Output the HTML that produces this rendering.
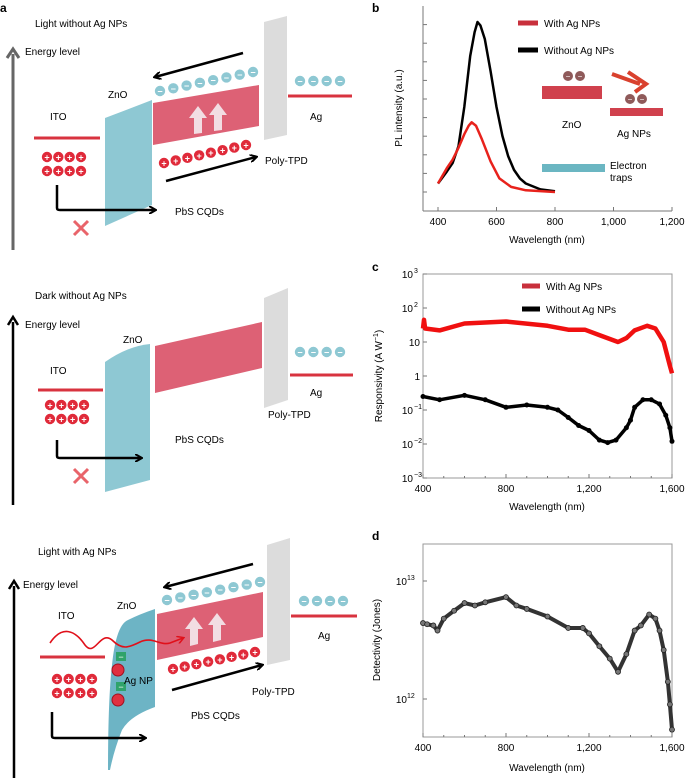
<!DOCTYPE html>
<html><head><meta charset="utf-8"><style>
html,body{margin:0;padding:0;background:#fff}
svg{display:block;font-family:"Liberation Sans",sans-serif}
</style></head><body>
<svg id="fig" width="685" height="778" viewBox="0 0 685 778" xmlns="http://www.w3.org/2000/svg">
<defs>
<marker id="ah" markerWidth="8" markerHeight="8" refX="6" refY="4" orient="auto" markerUnits="userSpaceOnUse"><path d="M0,0 L7,4 L0,8" fill="none" stroke="#000" stroke-width="2"/></marker>
<marker id="ahr" markerWidth="8" markerHeight="8" refX="6" refY="4" orient="auto" markerUnits="userSpaceOnUse"><path d="M0,0 L7,4 L0,8" fill="none" stroke="#e0101a" stroke-width="1.5"/></marker>
</defs>

<!-- PANEL a1 -->
<g>
<text x="0" y="12" font-size="12" font-weight="bold">a</text>
<text x="35" y="27" font-size="10">Light without Ag NPs</text>
<line x1="13" y1="250" x2="13" y2="54" stroke="#666" stroke-width="3"/>
<path d="M7,58 L13,49 L19,58" fill="none" stroke="#666" stroke-width="3"/>
<text x="25" y="55" font-size="10">Energy level</text>
<text x="50" y="120" font-size="10">ITO</text>
<line x1="34" y1="138" x2="100" y2="138" stroke="#d8333f" stroke-width="3"/>
<polygon points="105,118 152,100 152,205 105,226" fill="#8ec8d3"/>
<text x="108" y="98" font-size="10">ZnO</text>
<polygon points="153,103 259,85 259,126 153,145" fill="#dd6175"/>
<polygon points="264,22 287,16 287,135 264,140" fill="#dcdcdc"/>
<line x1="288" y1="96" x2="352" y2="96" stroke="#d8333f" stroke-width="3"/>
<text x="310" y="120" font-size="10">Ag</text>
<text x="265" y="164" font-size="10">Poly-TPD</text>
<text x="175" y="215" font-size="10">PbS CQDs</text>
<line x1="243" y1="53" x2="155" y2="77" stroke="#000" stroke-width="2.5" marker-end="url(#ah)"/>
<line x1="166" y1="181" x2="256" y2="157" stroke="#000" stroke-width="2.5" marker-end="url(#ah)"/>
<path d="M57,185 L57,208 Q57,210 60,210 L155,210" fill="none" stroke="#000" stroke-width="2.5" marker-end="url(#ah)"/>
<path d="M74,221 L88,235 M88,221 L74,235" stroke="#e9646a" stroke-width="3"/>
<g fill="#f2dde3">
<path d="M194,134 L194,118 L189,118 L198,106 L207,118 L202,118 L202,133Z"/>
<path d="M214,131 L214,115 L209,115 L218,103 L227,115 L222,115 L222,130Z"/>
</g>
</g>

<!-- PANEL a2 -->
<g>
<text x="35" y="299" font-size="10">Dark without Ag NPs</text>
<line x1="13" y1="505" x2="13" y2="322" stroke="#000" stroke-width="2.5"/>
<path d="M8,325 L13,317 L18,325" fill="none" stroke="#000" stroke-width="2.5"/>
<text x="25" y="328" font-size="10">Energy level</text>
<text x="50" y="374" font-size="10">ITO</text>
<line x1="38" y1="390" x2="103" y2="390" stroke="#d8333f" stroke-width="3"/>
<path d="M105,362 Q128,346 150,344 L150,480 L105,492Z" fill="#8ec8d3"/>
<text x="123" y="343" font-size="10">ZnO</text>
<polygon points="155,346 262,322 262,368 155,393" fill="#dd6175"/>
<polygon points="264,298 288,288 288,400 264,408" fill="#dcdcdc"/>
<line x1="290" y1="375" x2="353" y2="375" stroke="#d8333f" stroke-width="3"/>
<text x="310" y="396" font-size="10">Ag</text>
<text x="268" y="418" font-size="10">Poly-TPD</text>
<text x="175" y="443" font-size="10">PbS CQDs</text>
<path d="M57,440 L57,456 Q57,458 60,458 L141,458" fill="none" stroke="#000" stroke-width="2.5" marker-end="url(#ah)"/>
<path d="M74,469 L88,483 M88,469 L74,483" stroke="#e9646a" stroke-width="3"/>
</g>

<!-- PANEL a3 -->
<g>
<text x="38" y="555" font-size="10">Light with Ag NPs</text>
<line x1="14" y1="778" x2="14" y2="586" stroke="#000" stroke-width="2.5"/>
<path d="M9,589 L14,581 L19,589" fill="none" stroke="#000" stroke-width="2.5"/>
<text x="23" y="588" font-size="10">Energy level</text>
<text x="58" y="619" font-size="10">ITO</text>
<line x1="40" y1="657" x2="105" y2="657" stroke="#d8333f" stroke-width="3"/>
<path d="M108,770 Q108,700 112,665 Q116,625 128,620 Q140,614 155,609 L155,707 Q130,716 122,730 Q114,750 110,770Z" fill="#6db4c5"/>
<text x="117" y="609" font-size="10">ZnO</text>
<polygon points="157,614 263,592 263,637 157,660" fill="#dd6175"/>
<polygon points="267,545 290,538 290,660 267,665" fill="#dcdcdc"/>
<line x1="291" y1="616" x2="357" y2="616" stroke="#d8333f" stroke-width="3"/>
<text x="318" y="639" font-size="10">Ag</text>
<text x="252" y="695" font-size="10">Poly-TPD</text>
<text x="191" y="719" font-size="10">PbS CQDs</text>
<line x1="253" y1="564" x2="165" y2="587" stroke="#000" stroke-width="2.5" marker-end="url(#ah)"/>
<line x1="172" y1="690" x2="262" y2="665" stroke="#000" stroke-width="2.5" marker-end="url(#ah)"/>
<path d="M52,712 L52,736 Q52,738 55,738 L145,738" fill="none" stroke="#000" stroke-width="2.5" marker-end="url(#ah)"/>
<path d="M50,643 C62,625 75,630 85,645 C95,658 100,630 112,640 C122,650 128,648 140,642 C152,636 160,646 170,643 L183,638" fill="none" stroke="#e0101a" stroke-width="1.6" marker-end="url(#ahr)"/>
<rect x="116" y="652" width="10" height="9" fill="#2fa36a"/>
<rect x="116" y="682" width="10" height="9" fill="#2fa36a"/>
<text x="121" y="660" font-size="9" fill="#fff" text-anchor="middle">−</text>
<text x="121" y="690" font-size="9" fill="#fff" text-anchor="middle">−</text>
<circle cx="118" cy="670" r="6" fill="#e03040" stroke="#a01020"/>
<circle cx="118" cy="700" r="6" fill="#e03040" stroke="#a01020"/>
<text x="124" y="684" font-size="10">Ag NP</text>
<g fill="#f2dde3">
<path d="M190,646 L190,629 L185,629 L194,617 L203,629 L198,629 L198,644Z"/>
<path d="M213,642 L213,625 L208,625 L217,613 L226,625 L221,625 L221,640Z"/>
</g>
</g>
<g id="charges"></g>

<!-- PANEL b -->
<g id="pb">
<text x="372" y="12" font-size="12" font-weight="bold">b</text>
<line x1="423" y1="6" x2="423" y2="211" stroke="#777"/>
<line x1="423" y1="211" x2="672" y2="211" stroke="#777"/>
<text transform="translate(402,108) rotate(-90)" font-size="10" text-anchor="middle">PL intensity (a.u.)</text>
<text x="547" y="243" font-size="10" text-anchor="middle">Wavelength (nm)</text>
<line x1="518" y1="23" x2="538" y2="23" stroke="#c8303c" stroke-width="5"/>
<text x="544" y="27" font-size="10">With Ag NPs</text>
<line x1="518" y1="50" x2="538" y2="50" stroke="#000" stroke-width="5"/>
<text x="544" y="54" font-size="10">Without Ag NPs</text>
<circle cx="568" cy="76" r="5" fill="#8f5a5a"/>
<circle cx="580" cy="76" r="5" fill="#8f5a5a"/>
<text x="568" y="79" font-size="8" fill="#fff" text-anchor="middle">−</text><text x="580" y="79" font-size="8" fill="#fff" text-anchor="middle">−</text>
<rect x="542" y="86" width="60" height="13" fill="#d0414d"/>
<text x="562" y="128" font-size="10">ZnO</text>
<path d="M612,74 L640,84 M628,72 L646,84 L635,92" fill="none" stroke="#d9412e" stroke-width="4"/>
<circle cx="630" cy="99" r="5" fill="#8f5a5a"/>
<circle cx="642" cy="99" r="5" fill="#8f5a5a"/>
<text x="630" y="102" font-size="8" fill="#fff" text-anchor="middle">−</text><text x="642" y="102" font-size="8" fill="#fff" text-anchor="middle">−</text>
<rect x="610" y="108" width="53" height="8" fill="#d0414d"/>
<text x="617" y="137" font-size="10">Ag NPs</text>
<rect x="542" y="164" width="63" height="8" fill="#6bb6c2"/>
<text x="610" y="169" font-size="10">Electron</text>
<text x="610" y="181" font-size="10">traps</text>
</g>

<!-- PANEL c -->
<g id="pc">
<text x="372" y="271" font-size="12" font-weight="bold">c</text>
<rect x="423" y="274" width="249" height="204" fill="none" stroke="#999"/>
<text transform="translate(382,376) rotate(-90)" font-size="10" text-anchor="middle">Responsivity (A W<tspan dy="-4" font-size="7">−1</tspan><tspan dy="4">)</tspan></text>
<text x="547" y="510" font-size="10" text-anchor="middle">Wavelength (nm)</text>
<line x1="522" y1="286" x2="540" y2="286" stroke="#c8303c" stroke-width="5"/>
<text x="546" y="290" font-size="10">With Ag NPs</text>
<line x1="522" y1="309" x2="540" y2="309" stroke="#000" stroke-width="5"/>
<text x="546" y="313" font-size="10">Without Ag NPs</text>
</g>

<!-- PANEL d -->
<g id="pd">
<text x="372" y="540" font-size="12" font-weight="bold">d</text>
<rect x="423" y="544" width="249" height="193" fill="none" stroke="#999"/>
<text transform="translate(380,640) rotate(-90)" font-size="10" text-anchor="middle">Detectivity (Jones)</text>
<text x="547" y="771" font-size="10" text-anchor="middle">Wavelength (nm)</text>
</g>
</svg>
<script>
// Panel b data
const bWave=[400,430,450,470,490,510,525,535,545,560,580,600,620,640,660,680,700,750,800];
const bWithout=[.05,.12,.17,.27,.50,.80,.94,1.0,.98,.90,.71,.50,.33,.21,.13,.08,.05,.015,.005];
const bWaveR=[400,430,450,470,490,505,515,530,550,580,610,650,700,800];
const bWith=[.05,.14,.19,.26,.34,.39,.41,.39,.31,.18,.08,.03,.01,0];
const bXTicks=[400,600,800,1000,1200];
const bXLabels=["400","600","800","1,000","1,200"];
// Panel c data
const cWaveR=[400,405,410,480,600,800,1000,1100,1180,1250,1340,1380,1420,1480,1520,1560,1590,1600];
const cWith=[25,45,25,22,35,40,30,23,23,16,10,13,22,30,25,10,2,1.2];
const cWaveB=[400,480,600,700,800,900,1000,1050,1100,1150,1200,1250,1290,1330,1380,1400,1420,1460,1500,1540,1570,1590,1600];
const cWithout=[.25,.2,.27,.2,.12,.14,.12,.1,.06,.035,.025,.013,.011,.013,.03,.05,.12,.2,.2,.15,.07,.03,.012];
const cYTicks=[3,2,1,0,-1,-2,-3];
const cYLabels=["10|3","10|2","10","1","10|−1","10|−2","10|−3"];
const xTicksCD=[400,800,1200,1600];
const xLabelsCD=["400","800","1,200","1,600"];
// Panel d data (units of 1e12 Jones)
const dWave=[400,420,450,470,500,550,600,650,700,800,850,900,1000,1100,1170,1200,1250,1300,1340,1380,1420,1450,1490,1520,1540,1560,1580,1590,1600];
const dDet=[4.4,4.3,4.2,3.8,4.8,5.6,6.5,6.2,6.6,7.3,6.2,5.8,5.0,4.0,4.0,3.6,2.8,2.2,1.7,2.4,3.8,4.2,5.2,4.8,3.8,2.6,1.4,0.9,0.55];
const dYTicks=[12,13];

const NS="http://www.w3.org/2000/svg";
function mk(parent,tag,attrs){const e=document.createElementNS(NS,tag);for(const k in attrs)e.setAttribute(k,attrs[k]);parent.appendChild(e);return e;}
const bx=v=>438+(v-400)*(234/800);
const by=v=>192-v*170;
const cx=v=>423+(v-400)*(249/1200);
const cy=v=>274+(3-Math.log10(v))*34;
const dy=v=>699-(Math.log10(v*1e12)-12)*118;

const pb=document.getElementById('pb');
bXTicks.forEach((t,i)=>{
 const l=mk(pb,'line',{x1:bx(t),x2:bx(t),y1:211,y2:207,stroke:'#777'});
 
 
 const tx=mk(pb,'text',{x:bx(t),y:225,'font-size':10,'text-anchor':'middle'});
 tx.textContent=bXLabels[i];
 
 
});
for(let k=0;k<10;k++){mk(pb,'line',{x1:423,x2:427,y1:192-k*18.6,y2:192-k*18.6,stroke:'#777'});}
function path(xs,ys,fx,fy){return xs.map((x,i)=>(i?'L':'M')+fx(x).toFixed(1)+','+fy(ys[i]).toFixed(1)).join(' ');}
const pbk=mk(pb,'path',{d:path(bWave,bWithout,bx,by),fill:'none',stroke:'#000','stroke-width':2.5,'stroke-linejoin':'round'});


const pbr=mk(pb,'path',{d:path(bWaveR,bWith,bx,by),fill:'none',stroke:'#e8221c','stroke-width':2.5,'stroke-linejoin':'round'});



const pc=document.getElementById('pc');
function xTicks(g,yb,prefix){
 for(let v=400;v<=1600;v+=100){mk(g,'line',{x1:cx(v),x2:cx(v),y1:yb,y2:yb-(v%400?2:4),stroke:'#777'});}
 xTicksCD.forEach((t,i)=>{
  const tx=mk(g,'text',{x:cx(t),y:yb+14,'font-size':10,'text-anchor':'middle'});
  tx.textContent=xLabelsCD[i];
  
  
 });
}
xTicks(pc,478,'c');
cYTicks.forEach((t,i)=>{
 const y=cy(Math.pow(10,t));
 mk(pc,'line',{x1:423,x2:427,y1:y,y2:y,stroke:'#777'});
 const parts=cYLabels[i].split('|');
 const tx=mk(pc,'text',{x:parts[1]?413:420,y:y+4,'font-size':10,'text-anchor':'end'});
 tx.textContent=parts[0];
 
 
 if(parts[1]){const s=mk(pc,'text',{x:414,y:y-1,'font-size':7});s.textContent=parts[1];}
});
const pcr=mk(pc,'path',{d:path(cWaveR,cWith,cx,cy),fill:'none',stroke:'#f01010','stroke-width':4.5,'stroke-linejoin':'round'});


const pck=mk(pc,'path',{d:path(cWaveB,cWithout,cx,cy),fill:'none',stroke:'#000','stroke-width':3.5,'stroke-linejoin':'round'});


cWaveB.forEach((w,i)=>{const c=mk(pc,'circle',{cx:cx(w),cy:cy(cWithout[i]),r:2.5,fill:'#000'});
 
 });

const pd=document.getElementById('pd');
xTicks(pd,737,'d');
dYTicks.forEach(t=>{
 const y=dy(Math.pow(10,t-12));
 mk(pd,'line',{x1:423,x2:427,y1:y,y2:y,stroke:'#777'});
 const tx=mk(pd,'text',{x:407,y:y+4,'font-size':10,'text-anchor':'end'});
 tx.textContent='10';
 
 
 const s=mk(pd,'text',{x:407,y:y-1,'font-size':7});s.textContent=String(t);
});
const pdl=mk(pd,'path',{d:path(dWave,dDet,cx,dy),fill:'none',stroke:'#333','stroke-width':4,'stroke-linejoin':'round'});


dWave.forEach((w,i)=>{const c=mk(pd,'circle',{cx:cx(w),cy:dy(dDet[i]),r:2.5,fill:'#777',stroke:'#222','stroke-width':0.8});
 
 });

// charges in schematic
const ch=document.getElementById('charges');
function charge(x,y,sign,color,r){
 const c=mk(ch,'circle',{cx:x,cy:y,r:r||5.2,fill:color});
 
 
 const t=mk(ch,'text',{x:x,y:y+3.5,'font-size':9,'font-weight':'bold',fill:'#fff','text-anchor':'middle'});
 t.textContent=sign==='+'?'+':'−';
}
function row(x0,y0,x1,y1,n,sign,color){for(let i=0;i<n;i++){charge(x0+(x1-x0)*i/(n-1),y0+(y1-y0)*i/(n-1),sign,color);}}
const red='#e02a3a',teal='#8ec8d3';
// a1
row(47,157,81,157,4,'+',red);row(47,171,81,171,4,'+',red);
row(160,91,253,72,8,'−',teal);row(300,81,340,81,4,'−',teal);
row(164,163,246,145,8,'+',red);
// a2
row(50,405,84,405,4,'+',red);row(50,419,84,419,4,'+',red);
row(300,352,340,352,4,'−',teal);
// a3
row(57,679,92,679,4,'+',red);row(57,693,92,693,4,'+',red);
row(167,600,260,582,8,'−',teal);row(304,601,343,601,4,'−',teal);
row(173,669,255,652,8,'+',red);
</script>
</body></html>
